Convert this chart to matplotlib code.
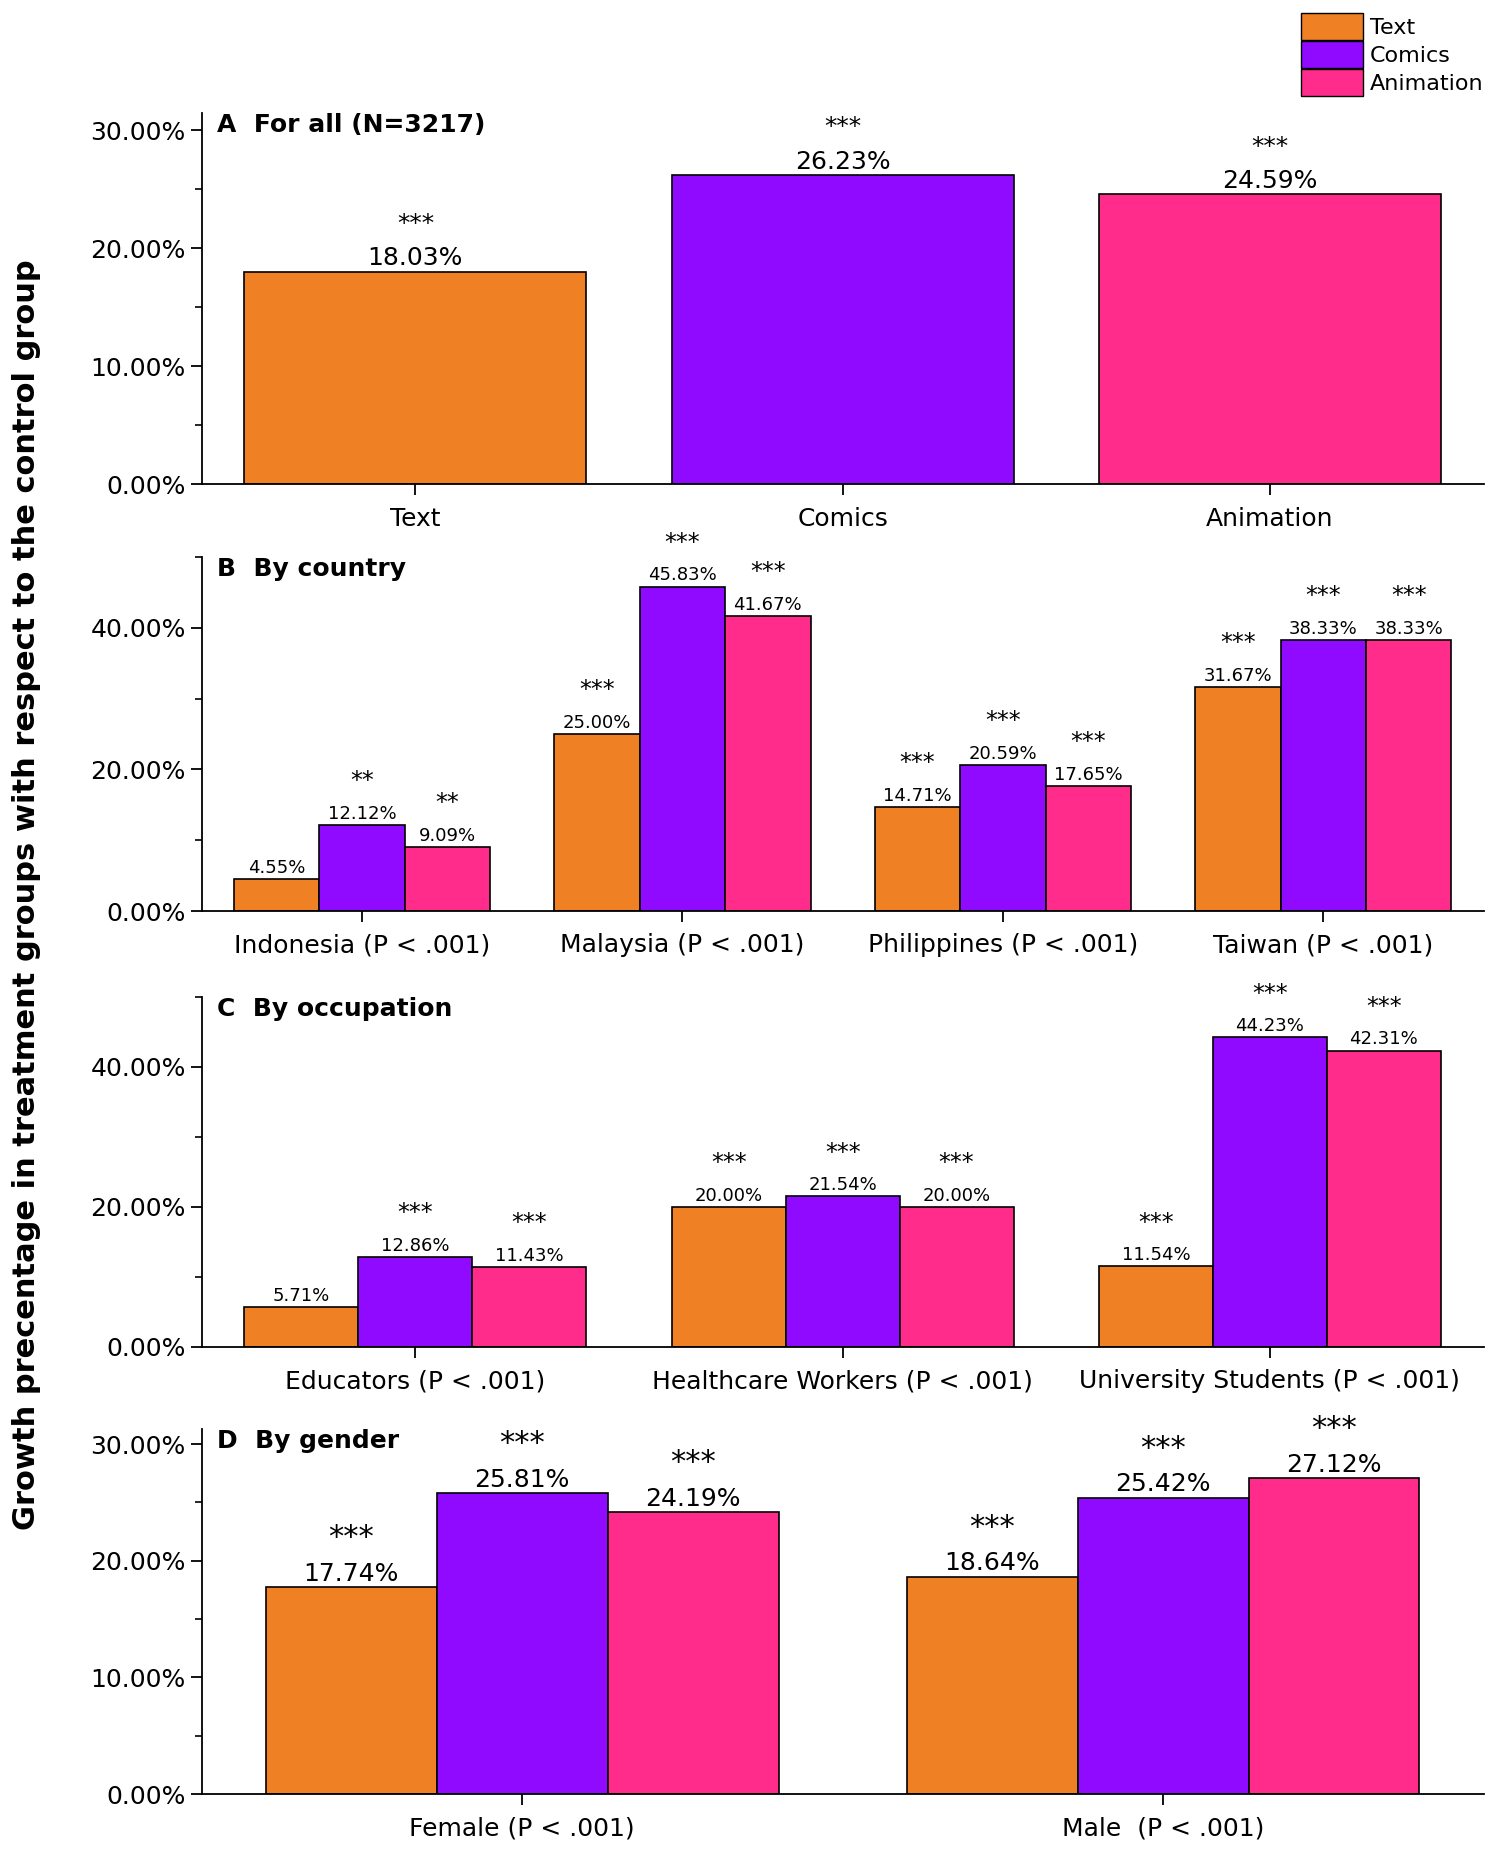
import numpy as np
import matplotlib.pyplot as plt
from matplotlib.ticker import MultipleLocator, AutoMinorLocator
from matplotlib.patches import Patch

series = ['Text', 'Comics', 'Animation']
colors = ['#F08024', '#8F0AFF', '#FF2C8C']

cat_a = ['Text', 'Comics', 'Animation']
val_a = [18.03, 26.23, 24.59]
sig_a = ['***', '***', '***']

cat_b = ['Indonesia (P < .001)', 'Malaysia (P < .001)', 'Philippines (P < .001)', 'Taiwan (P < .001)']
val_b = [[4.55, 25.00, 14.71, 31.67],
         [12.12, 45.83, 20.59, 38.33],
         [9.09, 41.67, 17.65, 38.33]]
sig_b = [['', '***', '***', '***'],
         ['**', '***', '***', '***'],
         ['**', '***', '***', '***']]

cat_c = ['Educators (P < .001)', 'Healthcare Workers (P < .001)', 'University Students (P < .001)']
val_c = [[5.71, 20.00, 11.54],
         [12.86, 21.54, 44.23],
         [11.43, 20.00, 42.31]]
sig_c = [['', '***', '***'],
         ['***', '***', '***'],
         ['***', '***', '***']]

cat_d = ['Female (P < .001)', 'Male  (P < .001)']
val_d = [[17.74, 18.64],
         [25.81, 25.42],
         [24.19, 27.12]]
sig_d = [['***', '***'],
         ['***', '***'],
         ['***', '***']]

fig = plt.figure(figsize=(15, 18.63), dpi=100)
L, W = 0.1345, 0.8545
axA = fig.add_axes([L, 0.740, W, 0.1995])
axB = fig.add_axes([L, 0.511, W, 0.190])
axC = fig.add_axes([L, 0.277, W, 0.188])
axD = fig.add_axes([L, 0.037, W, 0.196])


def style(ax, ymax, major, ncat, title):
    ax.set_xlim(-0.5, ncat - 0.5)
    ax.set_ylim(0, ymax)
    ax.yaxis.set_major_locator(MultipleLocator(major))
    ax.yaxis.set_minor_locator(AutoMinorLocator(2))
    ax.yaxis.set_major_formatter(lambda v, p: f'{v:.2f}%')
    for s in ['top', 'right']:
        ax.spines[s].set_visible(False)
    for s in ['left', 'bottom']:
        ax.spines[s].set_linewidth(1.3)
    ax.tick_params(axis='both', which='major', labelsize=18, length=8, width=1.3)
    ax.tick_params(axis='y', which='minor', length=5, width=1.2)
    ax.tick_params(axis='x', pad=8)
    ax.text(0.012, 1.0, title, transform=ax.transAxes, fontsize=18,
            fontweight='bold', va='top', ha='left')


def grouped(ax, cats, vals, sigs, fs, off, soff):
    n = len(series)
    w = 0.8 / n
    x = np.arange(len(cats))
    for i in range(n):
        xs = x + (i - 1) * w
        ax.bar(xs, vals[i], w, color=colors[i], edgecolor='black', linewidth=1.2)
        for xx, v, s in zip(xs, vals[i], sigs[i]):
            ax.text(xx, v + off, f'{v:.2f}%', ha='center', va='bottom', fontsize=fs)
            if s:
                ax.text(xx, v + soff, s, ha='center', va='bottom', fontsize=fs + 4)
    ax.set_xticks(x)
    ax.set_xticklabels(cats)


# A
x = np.arange(3)
axA.bar(x, val_a, 0.8, color=colors, edgecolor='black', linewidth=1.2)
for xx, v, s in zip(x, val_a, sig_a):
    axA.text(xx, v + 0.1, f'{v:.2f}%', ha='center', va='bottom', fontsize=18)
    axA.text(xx, v + 3.0, s, ha='center', va='bottom', fontsize=18)
axA.set_xticks(x)
axA.set_xticklabels(cat_a)
style(axA, 31.5, 10, 3, 'A  For all (N=3217)')

grouped(axB, cat_b, val_b, sig_b, 13, 0.3, 4.5)
style(axB, 50, 20, 4, 'B  By country')

grouped(axC, cat_c, val_c, sig_c, 13, 0.3, 4.5)
style(axC, 50, 20, 3, 'C  By occupation')

grouped(axD, cat_d, val_d, sig_d, 18, 0.1, 3.0)
style(axD, 31.3, 10, 2, 'D  By gender')

fig.text(0.018, 0.52, 'Growth precentage in treatment groups with respect to the control group',
         rotation=90, ha='center', va='center', fontsize=22, fontweight='bold')

handles = [Patch(facecolor=c, edgecolor='black', label=s) for c, s in zip(colors, series)]
fig.legend(handles=handles, loc='upper right', bbox_to_anchor=(0.995, 0.998),
           frameon=False, fontsize=16, handlelength=2.8, handleheight=1.5,
           labelspacing=0.05, handletextpad=0.3, borderaxespad=0)

fig.savefig('out.png', dpi=100)
